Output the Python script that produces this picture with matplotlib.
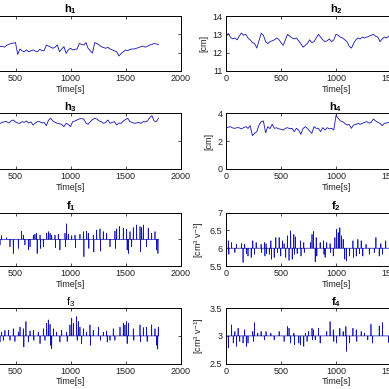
"""Level and flow traces (h1..h4, f1..f4), cropped 4x2 panel layout."""

import matplotlib
matplotlib.use("Agg")
import matplotlib.pyplot as plt
import numpy as np
from matplotlib.ticker import FuncFormatter

plt.rcParams["font.family"] = ["Liberation Sans", "DejaVu Sans"]
plt.rcParams["mathtext.fontset"] = "custom"
plt.rcParams["mathtext.rm"] = "Liberation Sans"
plt.rcParams["mathtext.bf"] = "Liberation Sans:bold"

STEP = 20  # sample spacing of the level traces [s]

# level traces, one value every 20 s from t = 0
h1 = [12.40, 12.45, 12.35, 12.30, 12.40, 12.45, 12.35, 12.30, 12.40, 12.35,
      12.45, 12.40, 12.30, 12.35, 12.40, 12.30, 12.35, 12.30,
      12.33, 12.35, 12.30, 12.40, 12.45, 12.50, 12.52, 12.55, 11.90, 12.20,
      12.10, 12.05, 12.15, 12.05, 12.10, 12.15, 12.08, 12.05, 12.18, 12.12,
      12.10, 12.42, 12.36, 12.30, 12.24, 12.30, 12.42, 12.05, 12.20, 12.33,
      11.96, 12.15, 12.24, 12.15, 12.18, 12.20, 12.50, 12.45, 12.42, 12.55,
      12.24, 12.10, 11.98, 12.55, 12.50, 12.42, 12.33, 12.28, 12.24, 12.29,
      12.20, 12.15, 12.10, 12.05, 11.82, 11.95, 12.05, 12.15, 12.10, 12.18,
      12.20, 12.20, 12.24, 12.28, 12.33, 12.36, 12.30, 12.35, 12.42, 12.45,
      12.50, 12.47, 12.45]

h2 = [12.85, 13.05, 12.85, 12.75, 12.80, 12.70, 12.90, 13.07, 12.95, 13.00,
      12.80, 12.70, 12.55, 12.50, 12.25, 12.65, 13.05, 12.95, 12.60, 12.50,
      12.60, 12.65, 12.70, 12.80, 12.72, 12.55, 12.40, 12.70, 13.00, 12.90,
      12.80, 12.75, 12.80, 12.65, 12.50, 12.30, 12.40, 12.50, 12.70, 12.55,
      12.60, 12.80, 13.00, 12.85, 12.70, 12.60, 12.65, 12.75, 12.60, 12.70,
      13.00, 12.95, 12.85, 12.80, 12.70, 12.60, 12.35, 12.25, 12.50, 12.70,
      12.80, 12.75, 12.85, 12.80, 12.85, 12.90, 12.95, 13.00, 12.90, 12.85,
      12.60, 12.75, 12.85, 12.80, 12.90, 12.85, 12.70, 12.80, 12.90, 12.75,
      12.60, 12.70, 12.85, 12.80, 12.70, 12.90, 12.85, 12.70, 12.80, 12.90,
      12.80]

h3 = [3.30, 3.38, 3.25, 3.40, 3.32, 3.45, 3.30, 3.35, 3.42, 3.28,
      3.36, 3.30, 3.44, 3.33, 3.27, 3.40, 3.35, 3.30,
      3.28, 3.35, 3.40, 3.40, 3.30, 3.45, 3.52, 3.38, 3.30, 3.28,
      3.40, 3.35, 3.45, 3.30, 3.38, 3.16, 3.30, 3.40, 3.40, 3.30,
      3.35, 3.11, 3.50, 3.65, 3.45, 3.35, 3.28, 3.25, 3.20, 3.04,
      3.28, 3.20, 3.04, 3.40, 3.45, 3.52, 3.60, 3.62, 3.59, 3.30,
      3.21, 3.40, 3.55, 3.64, 3.59, 3.45, 3.40, 3.28, 3.35, 3.52,
      3.28, 3.35, 3.40, 3.16, 3.30, 3.28, 3.45, 3.55, 3.64, 3.40,
      3.35, 3.28, 3.30, 3.35, 3.28, 3.40, 3.38, 3.45, 3.69, 3.83,
      3.45, 3.40, 3.64]

h4 = [2.92, 3.00, 3.04, 2.95, 2.92, 2.97, 2.96, 2.88, 2.97, 3.04,
      2.92, 3.11, 2.40, 2.56, 2.68, 3.15, 3.40, 3.45, 2.60, 3.04,
      2.90, 3.21, 2.92, 2.96, 2.88, 2.85, 2.80, 2.92, 2.97, 2.88,
      2.92, 2.68, 2.92, 2.80, 2.49, 2.90, 3.04, 2.92, 2.73, 2.56,
      3.04, 2.92, 2.92, 2.68, 2.97, 2.80, 2.97, 2.88, 2.92, 2.80,
      3.85, 3.64, 3.45, 3.40, 3.28, 3.16, 3.20, 2.92, 3.16, 3.20,
      3.28, 3.21, 3.28, 3.35, 3.40, 3.30, 3.35, 3.59, 3.45, 3.35,
      3.28, 3.11, 3.28, 3.30, 3.35, 3.25, 3.30, 3.40, 3.35, 3.30,
      3.25, 3.35, 3.30, 3.40, 3.35, 3.28, 3.32, 3.40, 3.35, 3.30,
      3.35]

# flow traces: a constant baseline with isolated excursions (time [s], value)
f1_base = 6.0
f1_t = [120, 250, 374, 420, 555, 571, 662, 677, 692, 723, 783, 798, 814, 829,
        859, 889, 950, 965, 980, 1011, 1041, 1086, 1117, 1147, 1162, 1207,
        1238, 1268, 1298, 1329, 1404, 1420, 1444, 1480, 1510, 1541, 1571,
        1601, 1632, 1647, 1662, 1707, 1738, 1768,
        180, 300, 359, 450, 480, 526, 586, 617, 632, 697, 728, 753, 864, 904,
        955, 1046, 1122, 1167, 1212, 1273, 1359, 1409, 1515, 1526, 1556, 1637,
        1692, 1783, 1795]
f1_v = [6.20, 6.15, 6.14, 6.06, 6.31, 6.16, 6.16, 6.19, 6.23, 6.16, 6.23, 6.29,
        6.23, 6.16, 6.16, 6.19, 6.23, 6.58, 6.19, 6.14, 6.16, 6.19, 6.29, 6.31,
        6.23, 6.16, 6.35, 6.39, 6.29, 6.23, 6.31, 6.39, 6.48, 6.42, 6.39, 6.29,
        6.44, 6.54, 6.48, 6.44, 6.54, 6.42, 6.23, 6.29,
        5.75, 5.80, 5.79, 5.72, 5.47, 5.66, 5.79, 5.60, 5.72, 5.47, 5.66, 5.72,
        5.69, 5.60, 5.72, 5.69, 5.35, 5.66, 5.53, 5.56, 5.72, 5.66, 5.60, 5.47,
        5.72, 5.53, 5.72, 5.60, 5.47]

f2_base = 6.0
f2_t = [21, 51, 96, 140, 170, 244, 274, 319, 349, 364, 408, 453, 483, 513,
        528, 558, 588, 617, 632, 677, 707, 767, 782, 796, 820, 856, 886, 916,
        946, 990, 1005, 1020, 1035, 1050, 1065, 1154, 1199, 1229, 1273, 1363,
        1408, 1452, 1530, 1610, 1700,
        26, 81, 155, 185, 200, 229, 259, 324, 354, 369, 394, 413, 438, 468,
        498, 543, 573, 602, 622, 647, 682, 712, 811, 826, 891, 901, 951, 975,
        1080, 1095, 1124, 1159, 1184, 1214, 1244, 1303, 1348, 1393, 1423,
        1560, 1650]
f2_v = [6.21, 6.16, 6.11, 6.13, 6.11, 6.21, 6.16, 6.11, 6.16, 6.13, 6.21, 6.30,
        6.30, 6.21, 6.13, 6.35, 6.49, 6.39, 6.32, 6.21, 6.16, 6.16, 6.39, 6.47,
        6.30, 6.16, 6.21, 6.16, 6.13, 6.30, 6.53, 6.44, 6.58, 6.35, 6.25, 6.21,
        6.25, 6.21, 6.11, 6.30, 6.13, 6.21, 6.20, 6.25, 6.15,
        5.83, 5.88, 5.60, 5.85, 5.78, 5.74, 5.83, 5.88, 5.78, 5.85, 5.83, 5.69,
        5.74, 5.88, 5.78, 5.74, 5.66, 5.69, 5.83, 5.85, 5.78, 5.88, 5.62, 5.78,
        5.83, 5.74, 5.88, 5.78, 5.69, 5.64, 5.78, 5.74, 5.78, 5.85, 5.78, 5.83,
        5.88, 5.78, 5.83, 5.80, 5.75]

f3_base = 3.0
f3_t = [150, 280, 374, 404, 435, 480, 526, 541, 571, 595, 632, 662, 707, 753,
        783, 798, 814, 844, 874, 920, 965, 995, 1011, 1026, 1056, 1071, 1086,
        1117, 1147, 1177, 1207, 1253, 1298, 1329, 1389, 1450, 1480, 1495, 1510,
        1526, 1571, 1632, 1662, 1692, 1738, 1768, 1798,
        200, 330, 359, 389, 450, 495, 576, 617, 667, 723, 768, 819, 829, 904,
        970, 1061, 1101, 1182, 1273, 1334, 1359, 1404, 1515, 1576, 1637, 1697,
        1783, 1793]
f3_v = [3.10, 3.08, 3.07, 3.10, 3.10, 3.13, 3.07, 3.16, 3.13, 3.26, 3.09, 3.10,
        3.07, 3.13, 3.23, 3.29, 3.21, 3.13, 3.07, 3.10, 3.07, 3.20, 3.32, 3.23,
        3.35, 3.26, 3.16, 3.13, 3.07, 3.20, 3.10, 3.16, 3.07, 3.09, 3.13, 3.16,
        3.23, 3.20, 3.26, 3.23, 3.13, 3.20, 3.15, 3.16, 3.20, 3.13, 3.16,
        2.90, 2.88, 2.89, 2.92, 2.92, 2.90, 2.80, 2.89, 2.92, 2.86, 2.92, 2.83,
        2.77, 2.89, 2.90, 2.92, 2.86, 2.83, 2.92, 2.89, 2.92, 2.92, 2.86, 2.92,
        2.89, 2.90, 2.83, 2.76]

f4_base = 3.0
f4_t = [51, 81, 110, 170, 244, 259, 289, 319, 364, 408, 483, 558, 573, 617,
        722, 752, 782, 796, 841, 916, 946, 975, 1035, 1065, 1090, 1154, 1184,
        1229, 1259, 1318, 1393, 1423, 1520, 1600, 1690,
        21, 66, 96, 125, 155, 185, 200, 249, 349, 438, 528, 588, 622, 662, 677,
        707, 737, 787, 811, 856, 980, 1005, 1095, 1124, 1189, 1289, 1333,
        1480, 1580, 1720]
f4_v = [3.20, 3.08, 3.14, 3.11, 3.08, 3.24, 3.05, 3.08, 3.08, 3.05, 3.08, 3.17,
        3.14, 3.05, 3.05, 3.08, 3.14, 3.11, 3.14, 3.08, 3.26, 3.11, 3.14, 3.08,
        3.17, 3.14, 3.11, 3.08, 3.05, 3.21, 3.18, 3.24, 3.12, 3.10, 3.15,
        2.78, 2.87, 2.81, 2.90, 2.87, 2.81, 2.87, 2.90, 2.93, 2.93, 2.90, 2.87,
        2.84, 2.87, 2.84, 2.81, 2.90, 2.93, 2.93, 2.87, 2.90, 2.87, 2.72, 2.87,
        2.90, 2.93, 2.87, 2.88, 2.86, 2.90]

T_END = 1800
LINE = "#1414b4"


def spike_trace(times, values, base, half=1.5):
    """Turn isolated excursions into a baseline trace with narrow spikes."""
    xs, ys = [0], [base]
    for t, v in sorted(zip(times, values)):
        xs += [t - half, t, t + half]
        ys += [base, v, base]
    xs.append(T_END)
    ys.append(base)
    return xs, ys


def style_axis(ax, title, ylim, yticks, ylabel, bold=True):
    ax.set_xlim(0, 2000)
    ax.set_xticks([0, 500, 1000, 1500, 2000])
    ax.set_ylim(*ylim)
    ax.set_yticks(yticks)
    ax.yaxis.set_major_formatter(FuncFormatter(lambda v, _: f"{v:g}"))
    ax.tick_params(direction="in", length=2.5, width=0.5, labelsize=6.5,
                   top=True, right=True, pad=2.5, labelcolor="#222222")
    for sp in ax.spines.values():
        sp.set_linewidth(0.7)
    ax.set_xlabel("Time[s]", fontsize=6.5, labelpad=1, color="#222222")
    ax.set_ylabel(ylabel, fontsize=6.5, labelpad=3, color="#222222")
    ax.set_title(title, fontsize=8, pad=2.5,
                 fontweight="bold" if bold else "normal")


# axes boxes in pixels (x0, x1, y_top, y_bottom) of the 389 px figure
PX = 389.0
COLS = [(-39.5, 180.5), (226.0, 446.0)]
ROWS = [(16.0, 71.0), (113.3, 169.0), (212.7, 266.0), (308.3, 363.5)]


def add_panel(fig, row, col):
    x0, x1 = COLS[col]
    yt, yb = ROWS[row]
    return fig.add_axes([x0 / PX, 1 - yb / PX, (x1 - x0) / PX, (yb - yt) / PX])


fig = plt.figure(figsize=(3.89, 3.89), dpi=100)

ax = add_panel(fig, 0, 0)
ax.plot(np.arange(len(h1)) * STEP, h1, color=LINE, lw=0.6)
style_axis(ax, r"$\mathbf{h_1}$", (11, 14), [11, 12, 13, 14], "[cm]")

ax = add_panel(fig, 0, 1)
ax.plot(np.arange(len(h2)) * STEP, h2, color=LINE, lw=0.6)
style_axis(ax, r"$\mathbf{h_2}$", (11, 14), [11, 12, 13, 14], "[cm]")

ax = add_panel(fig, 1, 0)
ax.plot(np.arange(len(h3)) * STEP, h3, color=LINE, lw=0.6)
style_axis(ax, r"$\mathbf{h_3}$", (0, 4), [0, 2, 4], "[cm]")

ax = add_panel(fig, 1, 1)
ax.plot(np.arange(len(h4)) * STEP, h4, color=LINE, lw=0.6)
style_axis(ax, r"$\mathbf{h_4}$", (0, 4), [0, 2, 4], "[cm]")

flow_unit = r"[cm$^3$ v$^{-1}$]"

ax = add_panel(fig, 2, 0)
ax.plot(*spike_trace(f1_t, f1_v, f1_base), color=LINE, lw=0.5)
style_axis(ax, r"$\mathbf{f_1}$", (5, 7), [5, 6, 7], flow_unit)

ax = add_panel(fig, 2, 1)
ax.plot(*spike_trace(f2_t, f2_v, f2_base), color=LINE, lw=0.5)
style_axis(ax, r"$\mathbf{f_2}$", (5.5, 7), [5.5, 6, 6.5, 7], flow_unit)

ax = add_panel(fig, 3, 0)
ax.plot(*spike_trace(f3_t, f3_v, f3_base), color=LINE, lw=0.5)
style_axis(ax, r"$\mathrm{f_3}$", (2.5, 3.5), [2.5, 3, 3.5], flow_unit, bold=False)

ax = add_panel(fig, 3, 1)
ax.plot(*spike_trace(f4_t, f4_v, f4_base), color=LINE, lw=0.5)
style_axis(ax, r"$\mathbf{f_4}$", (2.5, 3.5), [2.5, 3, 3.5], flow_unit)

fig.savefig("out.png", dpi=100)
plt.close(fig)
